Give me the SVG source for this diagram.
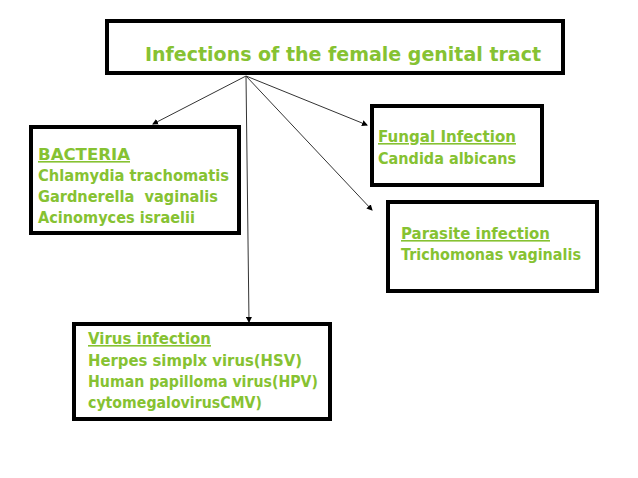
<svg xmlns="http://www.w3.org/2000/svg" width="638" height="478" viewBox="0 0 638 478">
<defs>
<style>
.box{fill:#fff;stroke:#000;stroke-width:4}
.t{font-family:"DejaVu Sans",sans-serif;font-size:16px;font-weight:bold;fill:#86c232}
.h{text-decoration:underline}
.c{stroke:#333;stroke-width:1;fill:none;marker-end:url(#a)}
</style>
<marker id="a" markerWidth="6" markerHeight="6" refX="5" refY="3" orient="auto" markerUnits="userSpaceOnUse"><path d="M0,0 L6,3 L0,6 z" fill="#000"/></marker>
</defs>
<rect width="638" height="478" fill="#fff"/>
<g id="connectors">
<line class="c" x1="246" y1="76" x2="153" y2="124"/>
<line class="c" x1="246" y1="76" x2="249" y2="322"/>
<line class="c" x1="246" y1="76" x2="367" y2="125"/>
<line class="c" x1="246" y1="76" x2="372" y2="210"/>
</g>
<g id="title">
<rect class="box" x="107" y="21" width="456" height="52"/>
<text class="t" x="145" y="61" textLength="396" lengthAdjust="spacingAndGlyphs" style="font-size:19px">Infections of the female genital tract</text>
</g>
<g id="bacteria">
<rect class="box" x="31" y="127" width="208" height="106"/>
<text class="t h" x="38" y="160" textLength="92" lengthAdjust="spacingAndGlyphs">BACTERIA</text>
<text class="t" x="38" y="181" textLength="191" lengthAdjust="spacingAndGlyphs">Chlamydia trachomatis</text>
<text class="t" x="38" y="202" textLength="180" lengthAdjust="spacingAndGlyphs">Gardnerella&#160; vaginalis</text>
<text class="t" x="38" y="223" textLength="157" lengthAdjust="spacingAndGlyphs">Acinomyces israelii</text>
</g>
<g id="fungal">
<rect class="box" x="372" y="106" width="170" height="79"/>
<text class="t h" x="378" y="142" textLength="138" lengthAdjust="spacingAndGlyphs">Fungal Infection</text>
<text class="t" x="378" y="164" textLength="138" lengthAdjust="spacingAndGlyphs">Candida albicans</text>
</g>
<g id="parasite">
<rect class="box" x="388" y="202" width="209" height="89"/>
<text class="t h" x="401" y="239" textLength="149" lengthAdjust="spacingAndGlyphs">Parasite infection</text>
<text class="t" x="401" y="260" textLength="180" lengthAdjust="spacingAndGlyphs">Trichomonas vaginalis</text>
</g>
<g id="virus">
<rect class="box" x="74" y="324" width="256" height="95"/>
<text class="t h" x="88" y="344" textLength="123" lengthAdjust="spacingAndGlyphs">Virus infection</text>
<text class="t" x="88" y="366" textLength="214" lengthAdjust="spacingAndGlyphs">Herpes simplx virus(HSV)</text>
<text class="t" x="88" y="387" textLength="230" lengthAdjust="spacingAndGlyphs">Human papilloma virus(HPV)</text>
<text class="t" x="88" y="408" textLength="174" lengthAdjust="spacingAndGlyphs">cytomegalovirusCMV)</text>
</g>
</svg>
